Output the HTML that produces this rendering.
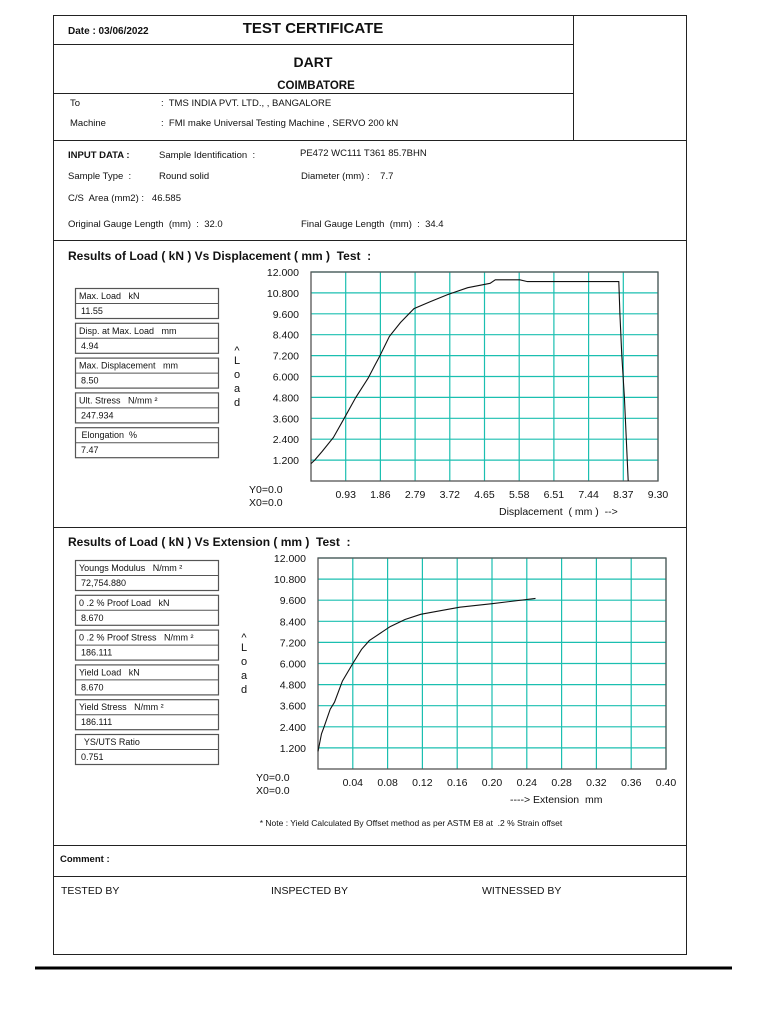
<!DOCTYPE html>
<html><head><meta charset="utf-8"><style>
html,body{margin:0;padding:0;background:#fff;width:768px;height:1024px;overflow:hidden}
svg text{font-family:"Liberation Sans",sans-serif;fill:#111;white-space:pre}
.b{font-weight:bold}
</style></head><body>
<svg id="page" width="768" height="1024" viewBox="0 0 768 1024" xmlns="http://www.w3.org/2000/svg" xml:space="preserve">
<g stroke="#222" stroke-width="1" fill="none">
<rect x="53.5" y="15.5" width="633" height="939"/>
<line x1="573.5" y1="15" x2="573.5" y2="140"/>
<line x1="53" y1="44.5" x2="573" y2="44.5"/>
<line x1="53" y1="93.5" x2="573" y2="93.5"/>
<line x1="53" y1="140.5" x2="686" y2="140.5"/>
<line x1="53" y1="240.5" x2="686" y2="240.5"/>
<line x1="53" y1="527.5" x2="686" y2="527.5"/>
<line x1="53" y1="845.5" x2="686" y2="845.5"/>
<line x1="53" y1="876.5" x2="686" y2="876.5"/>
</g>
<line x1="35" y1="968" x2="732" y2="968" stroke="#000" stroke-width="3"/>
<text x="68" y="34" font-size="10" class="b">Date : 03/06/2022</text>
<text x="313" y="33" font-size="15" class="b" text-anchor="middle">TEST CERTIFICATE</text>
<text x="313" y="67" font-size="14" class="b" text-anchor="middle">DART</text>
<text x="316" y="89" font-size="11.5" class="b" text-anchor="middle">COIMBATORE</text>
<g font-size="9.5">
<text x="70" y="106">To</text><text x="161" y="106">:  TMS INDIA PVT. LTD., , BANGALORE</text>
<text x="70" y="126">Machine</text><text x="161" y="126">:  FMI make Universal Testing Machine , SERVO 200 kN</text>
<text x="68" y="158" class="b">INPUT DATA :</text><text x="159" y="158">Sample Identification  :</text><text x="300" y="156">PE472 WC111 T361 85.7BHN</text>
<text x="68" y="179">Sample Type  :</text><text x="159" y="179">Round solid</text><text x="301" y="179">Diameter (mm) :    7.7</text>
<text x="68" y="201">C/S  Area (mm2) :   46.585</text>
<text x="68" y="227">Original Gauge Length  (mm)  :  32.0</text><text x="301" y="227">Final Gauge Length  (mm)  :  34.4</text>
</g>
<text x="68" y="260" font-size="12" class="b">Results of Load ( kN ) Vs Displacement ( mm )  Test  :</text>
<text x="68" y="546" font-size="12" class="b">Results of Load ( kN ) Vs Extension ( mm )  Test  :</text>
<text x="411" y="826" font-size="8.5" text-anchor="middle">* Note : Yield Calculated By Offset method as per ASTM E8 at  .2 % Strain offset</text>
<text x="60" y="862" font-size="9.5" class="b">Comment :</text>
<g font-size="10.5">
<text x="61" y="894">TESTED BY</text><text x="271" y="894">INSPECTED BY</text><text x="482" y="894">WITNESSED BY</text>
</g>
<g id="c1"></g>
<g id="c2"></g>
<g id="boxes"></g>
</svg>
<script>
const yTicks = ["1.200","2.400","3.600","4.800","6.000","7.200","8.400","9.600","10.800","12.000"];
const c1XTicks = ["0.93","1.86","2.79","3.72","4.65","5.58","6.51","7.44","8.37","9.30"];
const c1Disp = [0,0.1,0.3,0.6,0.89,1.2,1.53,1.7,1.85,2.1,2.4,2.76,3.2,3.66,4.2,4.8,4.94,5.6,5.8,8.25,8.28,8.33,8.4,8.5];
const c1Load = [1.0,1.2,1.7,2.5,3.6,4.8,5.9,6.6,7.2,8.3,9.1,9.9,10.3,10.7,11.1,11.35,11.55,11.55,11.45,11.45,9.6,7.2,4.8,0];
const c2XTicks = ["0.04","0.08","0.12","0.16","0.20","0.24","0.28","0.32","0.36","0.40"];
const c2Ext = [0,0.004,0.007,0.014,0.019,0.028,0.04,0.05,0.059,0.083,0.1,0.118,0.14,0.163,0.2,0.25];
const c2Load = [1.0,2.0,2.4,3.4,3.8,5.0,6.0,6.8,7.3,8.1,8.5,8.8,9.0,9.2,9.4,9.7];
const box1Labels = ["Max. Load   kN","Disp. at Max. Load   mm","Max. Displacement   mm","Ult. Stress   N/mm \u00b2"," Elongation  %"];
const box1Values = ["11.55","4.94","8.50","247.934","7.47"];
const box2Labels = ["Youngs Modulus   N/mm \u00b2","0 .2 % Proof Load   kN","0 .2 % Proof Stress   N/mm \u00b2","Yield Load   kN","Yield Stress   N/mm \u00b2","  YS/UTS Ratio"];
const box2Values = ["72,754.880","8.670","186.111","8.670","186.111","0.751"];
const NS="http://www.w3.org/2000/svg";
function mk(p,tag,attrs,txt){const e=document.createElementNS(NS,tag);for(const k in attrs)e.setAttribute(k,attrs[k]);if(txt!==undefined)e.textContent=txt;p.appendChild(e);return e;}
function chart(g,o){
  const X=v=>o.L+(v/o.xmax)*(o.R-o.L), Y=v=>o.B-(v/12)*(o.B-o.T);
  for(let i=0;i<o.xt.length;i++){const v=(i+1)*o.xmax/o.xt.length;
    const l=mk(g,'line',{x1:X(v),x2:X(v),y1:o.T,y2:o.B,stroke:'#1bbfb0','stroke-width':1.2});
    
    
    const t=mk(g,'text',{x:X(v),y:o.B+17,'font-size':10.5,'text-anchor':'middle'},o.xt[i]);
    
    }
  for(let i=0;i<yTicks.length;i++){const v=parseFloat(yTicks[i]);
    const l=mk(g,'line',{x1:o.L,x2:o.R,y1:Y(v),y2:Y(v),stroke:'#1bbfb0','stroke-width':1.2});
    
    
    const t=mk(g,'text',{x:o.L-12,y:Y(v)+4,'font-size':10.5,'text-anchor':'end'},yTicks[i]);
    
    }
  const r=mk(g,'rect',{x:o.L,y:o.T,width:o.R-o.L,height:o.B-o.T,fill:'none',stroke:'#555','stroke-width':1.3});
  
  
  const pts=o.xs.map((v,i)=>X(v).toFixed(1)+','+Y(o.ys[i]).toFixed(1)).join(' ');
  const pl=mk(g,'polyline',{points:pts,fill:'none',stroke:'#111','stroke-width':1.1});
  
  
  const a=mk(g,'text',{x:o.L-62,y:o.B+12,'font-size':10.5},'Y0=0.0');
  
  
  const b=mk(g,'text',{x:o.L-62,y:o.B+25,'font-size':10.5},'X0=0.0');
  
  
  const xt=mk(g,'text',{x:o.xlx,y:o.B+34,'font-size':10.5},o.xl);
  
  
  const yl=['^','L','o','a','d'];
  for(let i=0;i<yl.length;i++){const t=mk(g,'text',{x:o.L-74,y:o.yly+i*14+(i==0?4:0),'font-size':11,'text-anchor':'middle'},yl[i]);
    
    }
}
chart(document.getElementById('c1'),{L:311,R:658,T:272,B:481,xmax:9.30,xt:c1XTicks,xs:c1Disp,ys:c1Load,xl:'Displacement  ( mm )  -->',xlx:499,yly:350});
chart(document.getElementById('c2'),{L:318,R:666,T:558,B:769,xmax:0.40,xt:c2XTicks,xs:c2Ext,ys:c2Load,xl:'----> Extension  mm',xlx:510,yly:637});
function boxes(labels,vals,y0){const g=document.getElementById('boxes');
  for(let i=0;i<labels.length;i++){const y=y0+i*34.8;
    const r=mk(g,'rect',{x:75.5,y:y+.5,width:143,height:30,fill:'none',stroke:'#555','stroke-width':1.2});
    
    
    mk(g,'line',{x1:75,x2:219,y1:y+15.5,y2:y+15.5,stroke:'#555','stroke-width':1});
    const t=mk(g,'text',{x:79,y:y+11,'font-size':9},labels[i]);
    
    
    const v=mk(g,'text',{x:81,y:y+26,'font-size':9},vals[i]);
    
    }}
boxes(box1Labels,box1Values,288);
boxes(box2Labels,box2Values,560);
</script>
</body></html>
